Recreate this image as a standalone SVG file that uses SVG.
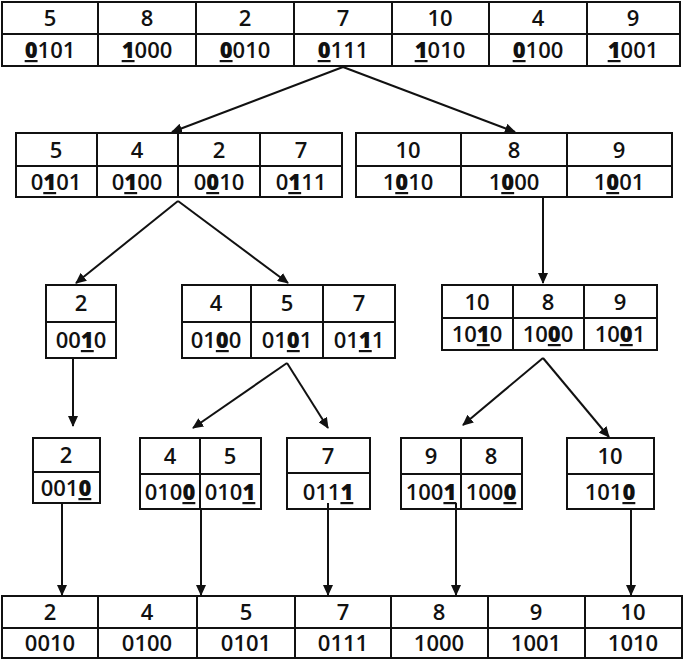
<svg xmlns="http://www.w3.org/2000/svg" width="685" height="661" viewBox="0 0 685 661">
<style>
.b{fill:#fff;stroke:#111;stroke-width:2}
.l{stroke:#111;stroke-width:2}
text{font-family:"Open Sans","Noto Sans","Liberation Sans",sans-serif;font-size:22px;font-weight:600;fill:#111;text-anchor:middle}
.u{font-weight:800;text-decoration:underline}
.c{stroke:#111;stroke-width:2;fill:none;marker-end:url(#ah)}
</style>
<defs>
<marker id="ah" markerUnits="userSpaceOnUse" markerWidth="11" markerHeight="10" refX="10" refY="5" orient="auto"><path d="M0,0 L11,5 L0,10 z" fill="#111"/></marker>
</defs>
<rect width="685" height="661" fill="#fff"/>

<g id="row0">
<rect class="b" x="2" y="2" width="678" height="64"/>
<path class="l" d="M2,34H680M98,2V66M196,2V66M294,2V66M392,2V66M489,2V66M587,2V66"/>
<text x="50" y="26">5</text><text x="50" y="58"><tspan class="u">0</tspan>101</text>
<text x="147" y="26">8</text><text x="147" y="58"><tspan class="u">1</tspan>000</text>
<text x="245" y="26">2</text><text x="245" y="58"><tspan class="u">0</tspan>010</text>
<text x="343" y="26">7</text><text x="343" y="58"><tspan class="u">0</tspan>111</text>
<text x="440" y="26">10</text><text x="440" y="58"><tspan class="u">1</tspan>010</text>
<text x="538" y="26">4</text><text x="538" y="58"><tspan class="u">0</tspan>100</text>
<text x="633" y="26">9</text><text x="633" y="58"><tspan class="u">1</tspan>001</text>
</g>

<g id="r1a">
<rect class="b" x="16" y="133" width="326" height="64"/>
<path class="l" d="M16,166H342M97,133V197M178,133V197M260,133V197"/>
<text x="56" y="158">5</text><text x="56" y="190">0<tspan class="u">1</tspan>01</text>
<text x="137" y="158">4</text><text x="137" y="190">0<tspan class="u">1</tspan>00</text>
<text x="219" y="158">2</text><text x="219" y="190">0<tspan class="u">0</tspan>10</text>
<text x="301" y="158">7</text><text x="301" y="190">0<tspan class="u">1</tspan>11</text>
</g>

<g id="r1b">
<rect class="b" x="356" y="133" width="316" height="64"/>
<path class="l" d="M356,166H672M461,133V197M567,133V197"/>
<text x="408" y="158">10</text><text x="408" y="190">1<tspan class="u">0</tspan>10</text>
<text x="514" y="158">8</text><text x="514" y="190">1<tspan class="u">0</tspan>00</text>
<text x="619" y="158">9</text><text x="619" y="190">1<tspan class="u">0</tspan>01</text>
</g>

<g id="r2a">
<rect class="b" x="46" y="285" width="70" height="73"/>
<path class="l" d="M46,322H116"/>
<text x="81" y="311">2</text><text x="81" y="348">00<tspan class="u">1</tspan>0</text>
</g>

<g id="r2b">
<rect class="b" x="182" y="285" width="213" height="73"/>
<path class="l" d="M182,322H395M251,285V358M323,285V358"/>
<text x="216" y="311">4</text><text x="216" y="348">01<tspan class="u">0</tspan>0</text>
<text x="287" y="311">5</text><text x="287" y="348">01<tspan class="u">0</tspan>1</text>
<text x="359" y="311">7</text><text x="359" y="348">01<tspan class="u">1</tspan>1</text>
</g>

<g id="r2c">
<rect class="b" x="442" y="285" width="215" height="65"/>
<path class="l" d="M442,318H657M513,285V350M584,285V350"/>
<text x="477" y="310">10</text><text x="477" y="342">10<tspan class="u">1</tspan>0</text>
<text x="548" y="310">8</text><text x="548" y="342">10<tspan class="u">0</tspan>0</text>
<text x="620" y="310">9</text><text x="620" y="342">10<tspan class="u">0</tspan>1</text>
</g>

<g id="r3a">
<rect class="b" x="33" y="438" width="67" height="65"/>
<path class="l" d="M33,472H100"/>
<text x="66" y="463">2</text><text x="66" y="496">001<tspan class="u">0</tspan></text>
</g>

<g id="r3b">
<rect class="b" x="140" y="438" width="121" height="71"/>
<path class="l" d="M140,474H261M200,438V509"/>
<text x="170" y="464">4</text><text x="170" y="500">010<tspan class="u">0</tspan></text>
<text x="230" y="464">5</text><text x="230" y="500">010<tspan class="u">1</tspan></text>
</g>

<g id="r3c">
<rect class="b" x="287" y="438" width="83" height="71"/>
<path class="l" d="M287,473H370"/>
<text x="328" y="464">7</text><text x="328" y="500">011<tspan class="u">1</tspan></text>
</g>

<g id="r3d">
<rect class="b" x="401" y="438" width="121" height="71"/>
<path class="l" d="M401,474H522M461,438V509"/>
<text x="431" y="464">9</text><text x="431" y="500">100<tspan class="u">1</tspan></text>
<text x="491" y="464">8</text><text x="491" y="500">100<tspan class="u">0</tspan></text>
</g>

<g id="r3e">
<rect class="b" x="567" y="438" width="87" height="71"/>
<path class="l" d="M567,474H654"/>
<text x="610" y="464">10</text><text x="610" y="500">101<tspan class="u">0</tspan></text>
</g>

<g id="row4">
<rect class="b" x="2" y="596" width="680" height="62"/>
<path class="l" d="M2,628H682M98,596V658M197,596V658M295,596V658M391,596V658M488,596V658M585,596V658"/>
<text x="50" y="620">2</text><text x="50" y="651">0010</text>
<text x="147" y="620">4</text><text x="147" y="651">0100</text>
<text x="246" y="620">5</text><text x="246" y="651">0101</text>
<text x="343" y="620">7</text><text x="343" y="651">0111</text>
<text x="439" y="620">8</text><text x="439" y="651">1000</text>
<text x="536" y="620">9</text><text x="536" y="651">1001</text>
<text x="633" y="620">10</text><text x="633" y="651">1010</text>
</g>

<g id="connectors">
<path class="c" d="M343,67L172,132"/>
<path class="c" d="M343,67L515,132"/>
<path class="c" d="M178,201L76,283"/>
<path class="c" d="M178,201L288,283"/>
<path class="c" d="M543,197L543,283"/>
<path class="c" d="M73,358L73,426"/>
<path class="c" d="M287,363L193,428"/>
<path class="c" d="M287,363L328,428"/>
<path class="c" d="M543,358L463,425"/>
<path class="c" d="M543,358L609,437"/>
<path class="c" d="M62,503L62,595"/>
<path class="c" d="M201,509L201,595"/>
<path class="c" d="M328,503L328,595"/>
<path class="c" d="M456,503L456,595"/>
<path class="c" d="M631,509L631,595"/>
</g>
</svg>
